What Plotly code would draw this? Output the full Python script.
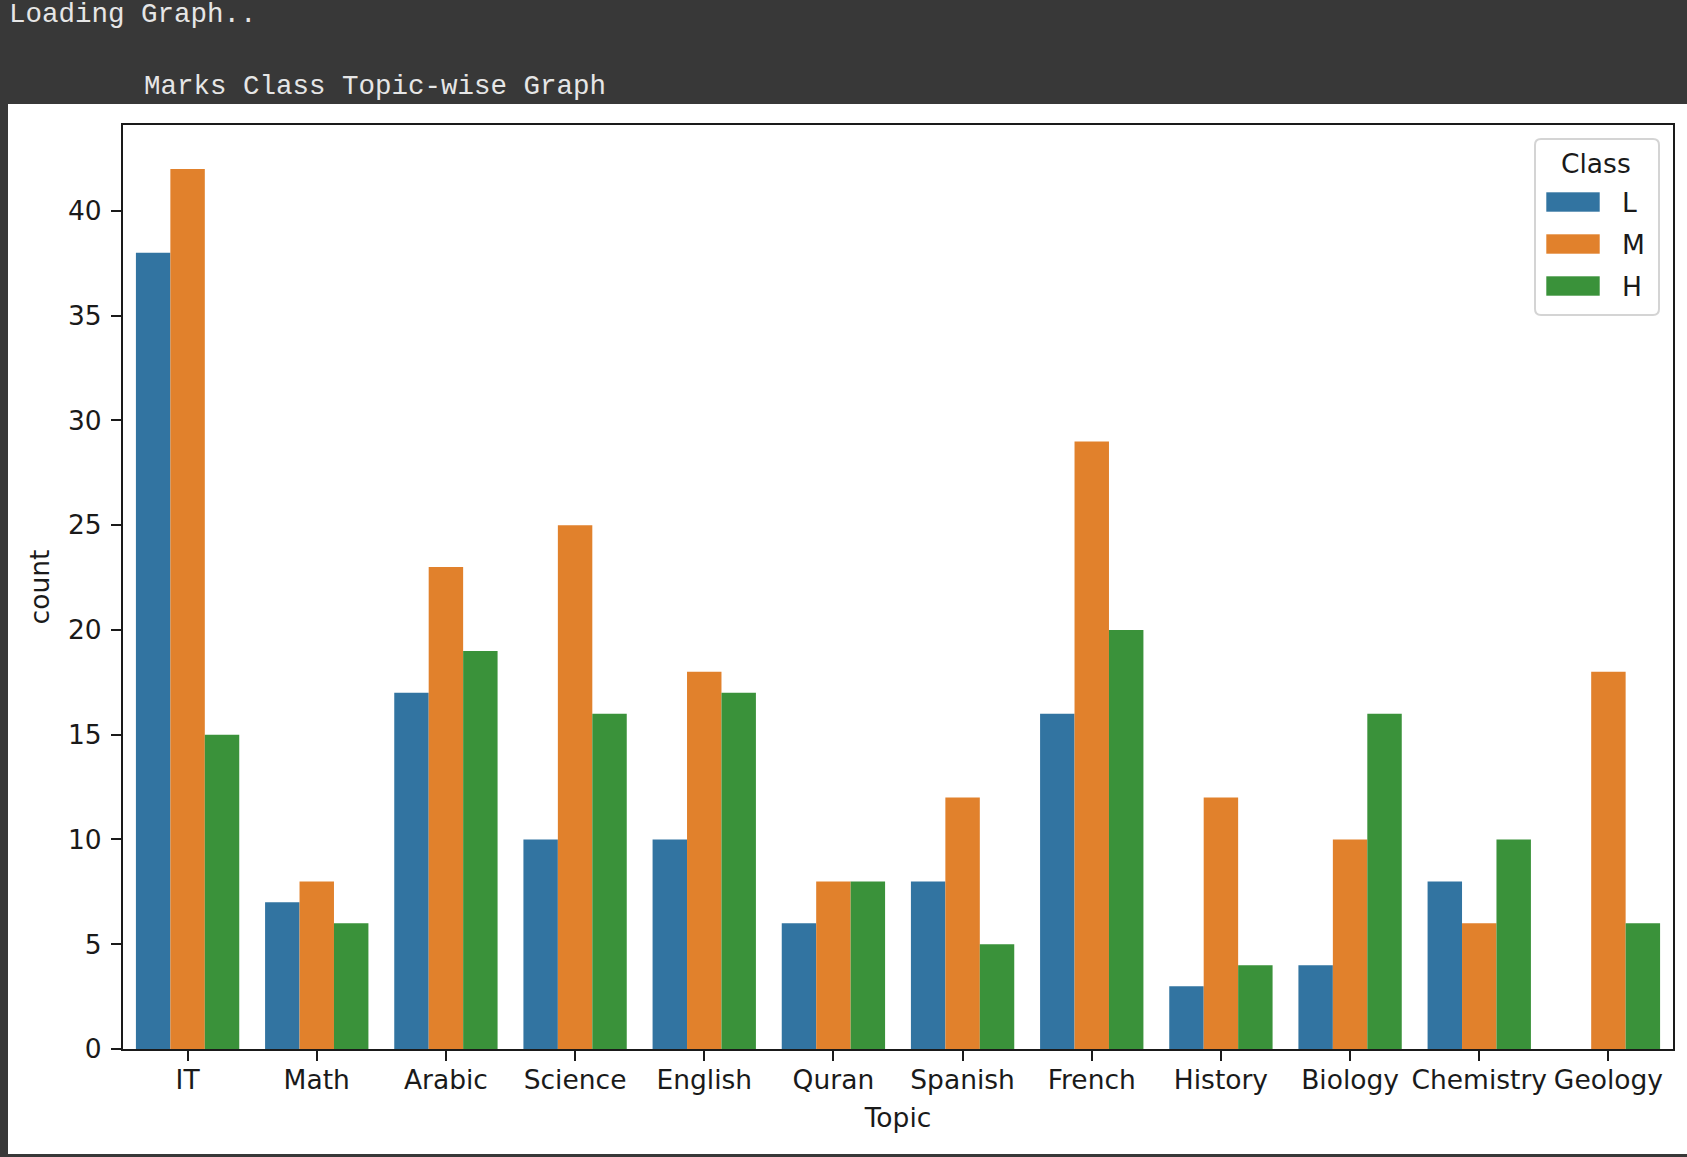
import plotly.graph_objects as go

topics = ["IT", "Math", "Arabic", "Science", "English", "Quran", "Spanish",
          "French", "History", "Biology", "Chemistry", "Geology"]
classes = ["L", "M", "H"]
count_L = [38, 7, 17, 10, 10, 6, 8, 16, 3, 4, 8, None]
count_M = [42, 8, 23, 25, 18, 8, 12, 29, 12, 10, 6, 18]
count_H = [15, 6, 19, 16, 17, 8, 5, 20, 4, 16, 10, 6]
series = {"L": count_L, "M": count_M, "H": count_H}
colors = {"L": "#3274a1", "M": "#e1812c", "H": "#3a923a"}

W, H = 1687, 1157
ML, MR, MT, MB = 123, 14, 125, 108
PW, PH = W - ML - MR, H - MT - MB


def px(xp):
    return (xp - ML) / PW


def py(yp):
    return (H - MB - yp) / PH


fig = go.Figure()
for c in classes:
    fig.add_trace(go.Bar(x=topics, y=series[c], name=c, marker_color=colors[c],
                         marker_line_width=0, showlegend=False))

TXT = "#1a1a1a"
TF = dict(family="DejaVu Sans", size=26.5, color=TXT)

shapes = []
annotations = []

# white canvas panel
shapes.append(dict(type="rect", xref="paper", yref="paper", layer="below",
                   x0=px(8), x1=px(W + 20), y0=py(1154), y1=py(104),
                   fillcolor="white", line_width=0))

# header texts
HF = dict(family="Liberation Mono", size=27.5, color="#e6e6e6")
annotations.append(dict(text="Loading Graph..", xref="paper", yref="paper",
                        x=px(7), y=py(15), xanchor="left", yanchor="middle",
                        showarrow=False, font=HF))
annotations.append(dict(text="Marks Class Topic-wise Graph", xref="paper", yref="paper",
                        x=px(142), y=py(86), xanchor="left", yanchor="middle",
                        showarrow=False, font=HF))

# legend box (rounded)
lx0, lx1, ly0, ly1 = px(1535), px(1659), py(315), py(139)
rx, ry = 6 / PW, 6 / PH
path = (f"M {lx0+rx},{ly1} L {lx1-rx},{ly1} Q {lx1},{ly1} {lx1},{ly1-ry} "
        f"L {lx1},{ly0+ry} Q {lx1},{ly0} {lx1-rx},{ly0} L {lx0+rx},{ly0} "
        f"Q {lx0},{ly0} {lx0},{ly0+ry} L {lx0},{ly1-ry} Q {lx0},{ly1} {lx0+rx},{ly1} Z")
shapes.append(dict(type="path", xref="paper", yref="paper", path=path,
                   fillcolor="rgba(255,255,255,0.8)", line=dict(color="#d4d4d4", width=2)))
annotations.append(dict(text="Class", xref="paper", yref="paper", x=px(1596), y=py(163),
                        xanchor="center", yanchor="middle", showarrow=False, font=TF))
row0, row_step = 202, 42
for i, c in enumerate(classes):
    yc = row0 + i * row_step
    shapes.append(dict(type="rect", xref="paper", yref="paper",
                       x0=px(1546), x1=px(1600), y0=py(yc + 10), y1=py(yc - 10),
                       fillcolor=colors[c], line=dict(color="rgba(255,255,255,0.6)", width=1)))
    annotations.append(dict(text=c, xref="paper", yref="paper", x=px(1620), y=py(yc),
                            xanchor="left", yanchor="middle", showarrow=False, font=TF))

fig.update_layout(
    width=W, height=H,
    margin=dict(l=ML, r=MR, t=MT, b=MB, pad=0),
    paper_bgcolor="#383838",
    plot_bgcolor="white",
    barmode="group", bargap=0.2, bargroupgap=0,
    shapes=shapes, annotations=annotations,
    font=TF,
)
fig.update_xaxes(range=[-0.5, 11.5], showgrid=False, zeroline=False,
                 showline=True, linecolor="#1a1a1a", linewidth=2, mirror=True,
                 ticks="outside", ticklen=10, tickwidth=2, tickcolor="#1a1a1a",
                 tickfont=TF, ticklabelstandoff=-4,
                 title=dict(text="Topic", font=TF, standoff=15))
fig.update_yaxes(range=[0, 44.1], dtick=5, tick0=0, showgrid=False, zeroline=False,
                 showline=True, linecolor="#1a1a1a", linewidth=2, mirror=True,
                 ticks="outside", ticklen=10, tickwidth=2, tickcolor="#1a1a1a",
                 tickfont=TF, ticklabelstandoff=4,
                 title=dict(text="count", font=TF, standoff=11))

fig.write_html("out.html",
               config={"displayModeBar": False},
               post_script="document.body.style.margin='0';"
                           "document.body.style.background='#383838';"
                           "document.body.style.overflow='hidden';")
